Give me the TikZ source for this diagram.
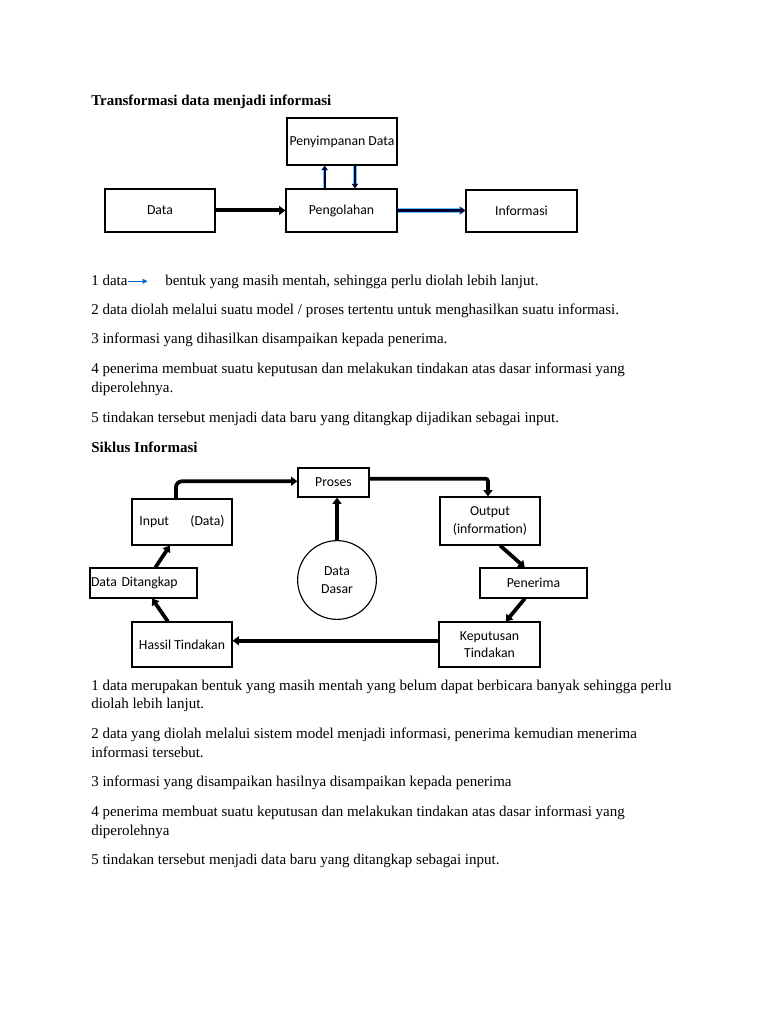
\documentclass[tikz,border=0pt]{standalone}
\usepackage{fontspec}
\setmainfont{Liberation Serif}
\newfontfamily\diagfont{Carlito}
\usetikzlibrary{arrows.meta,calc}
\begin{document}
\begin{tikzpicture}[x=0.8pt,y=-0.8pt,
  txt/.style={anchor=base west,inner sep=0pt,font=\fontsize{12}{14}\selectfont},
  head/.style={anchor=base west,inner sep=0pt,font=\bfseries\fontsize{12}{14}\selectfont},
  box/.style={draw,line width=0.9pt,inner sep=1pt,align=center,font=\diagfont\fontsize{11}{14}\selectfont},
  blk/.style={line width=3.2pt,-{Triangle[length=5pt,width=7pt]}},
  blu/.style={draw=black!80!blue,line width=2.2pt,-{Triangle[length=4pt,width=5.5pt]},
     preaction={draw=blue!40!cyan!60,line width=3.4pt,-{Triangle[length=5pt,width=7pt]}}},
  vblu/.style={draw=black!80!blue,line width=1.8pt,-{Triangle[length=3.5pt,width=4.5pt]},
     preaction={draw=blue!40!cyan!60,line width=2.8pt,-{Triangle[length=4pt,width=5.5pt]}}},
  cyc/.style={draw=black,line width=3pt,-{Triangle[length=5pt,width=7pt]}},
]
\useasboundingbox[fill=white] (0,0) rectangle (768,1024);

% ---------- first diagram ----------
\node[head] (h1) at (91,106) {Transformasi data menjadi informasi};
\node[box,minimum width=88pt,minimum height=37.6pt] (pyd) at (342,141.5) {Penyimpanan Data};
\node[box,minimum width=88pt,minimum height=34.4pt] (dat) at (160,210.5) {Data};
\node[box,minimum width=88.8pt,minimum height=34.4pt] (peng) at (341.5,210.5) {Pengolahan};
\node[box,minimum width=88.8pt,minimum height=33.6pt] (inf) at (521.5,211) {Informasi};

\draw[blk] (dat.east) -- (peng.west);
\draw[blu] (peng.east) -- (peng.east -| inf.west);
\coordinate (u1) at ($(peng.north west)!0.35!(peng.north east)$);
\coordinate (u2) at ($(peng.north west)!0.62!(peng.north east)$);
\draw[vblu] (u1) -- (u1 |- pyd.south);
\draw[vblu] (u2 |- pyd.south) -- (u2);

% ---------- first text ----------
\node[txt] (t1) at (91,285) {1 data};
\node[txt] (t1b) at (165,285) {bentuk yang masih mentah, sehingga perlu diolah lebih lanjut.};
\draw[draw=blue!50!cyan!80!black,line width=0.8pt,-{Triangle[length=4pt,width=4pt]}]
  ([xshift=0.5pt,yshift=3pt]t1.base east) -- ([xshift=-14pt,yshift=3pt]t1b.base west);
\node[txt] (t2) at (91,314) {2 data diolah melalui suatu model / proses tertentu untuk menghasilkan suatu informasi.};
\node[txt] (t3) at (91,343) {3 informasi yang dihasilkan disampaikan kepada penerima.};
\node[txt] (t4) at (91,373) {4 penerima membuat suatu keputusan dan melakukan tindakan atas dasar informasi yang};
\node[txt] (t4b) at (91,392) {diperolehnya.};
\node[txt] (t5) at (91,422) {5 tindakan tersebut menjadi data baru yang ditangkap dijadikan sebagai input.};

% ---------- second diagram ----------
\node[head] (h2) at (91,452) {Siklus Informasi};
\node[box,minimum width=56.8pt,minimum height=23.2pt] (pro) at (333.5,482.5) {Proses};
\node[box,minimum width=80pt,minimum height=36.8pt] (inp) at (182,522) {Input\hspace{17pt}(Data)};
\node[box,text width=84pt,inner xsep=0.8pt,align=left,minimum height=24pt] (dit) at (143.5,583) {Data Ditangkap};
\node[box,minimum width=80pt,minimum height=36pt] (has) at (182,644.5) {Hassil Tindakan};
\node[box,minimum width=80pt,minimum height=38.4pt] (out) at (490,521) {Output\\(information)};
\node[box,minimum width=85.6pt,minimum height=24pt] (pen) at (533.5,583) {Penerima};
\node[box,minimum width=80.8pt,minimum height=36pt] (kep) at (489.5,644.5) {Keputusan\\Tindakan};
\node[box,circle,minimum size=63pt,inner sep=0pt] (dd) at (337,580) {Data\\Dasar};

\draw[cyc,rounded corners=5pt] ($(inp.north west)!0.44!(inp.north east)$) |- ([yshift=1pt]pro.west);
\draw[cyc,rounded corners=2pt] ([yshift=3pt]pro.east) -| ($(out.north west)!0.48!(out.north east)$);
\draw[cyc] (dd.north) -- (dd.north |- pro.south);
\draw[cyc] ($(out.south west)!0.6!(out.south east)$) -- ($(pen.north west)!0.42!(pen.north east)$);
\draw[cyc] ($(pen.south west)!0.42!(pen.south east)$) -- ($(kep.north west)!0.66!(kep.north east)$);
\draw[cyc] ([yshift=3pt]kep.west) -- ([yshift=3pt]has.east);
\draw[cyc] ($(has.north west)!0.36!(has.north east)$) -- ($(dit.south west)!0.58!(dit.south east)$);
\draw[cyc] ($(dit.north west)!0.61!(dit.north east)$) -- ($(inp.south west)!0.38!(inp.south east)$);

% ---------- second text ----------
\node[txt] (s1) at (91,690) {1 data merupakan bentuk yang masih mentah yang belum dapat berbicara banyak sehingga perlu};
\node[txt] (s1b) at (91,708) {diolah lebih lanjut.};
\node[txt] (s2) at (91,738) {2 data yang diolah melalui sistem model menjadi informasi, penerima kemudian menerima};
\node[txt] (s2b) at (91,757) {informasi tersebut.};
\node[txt] (s3) at (91,786) {3 informasi yang disampaikan hasilnya disampaikan kepada penerima};
\node[txt] (s4) at (91,816) {4 penerima membuat suatu keputusan dan melakukan tindakan atas dasar informasi yang};
\node[txt] (s4b) at (91,835) {diperolehnya};
\node[txt] (s5) at (91,864) {5 tindakan tersebut menjadi data baru yang ditangkap sebagai input.};
\end{tikzpicture}
\end{document}
